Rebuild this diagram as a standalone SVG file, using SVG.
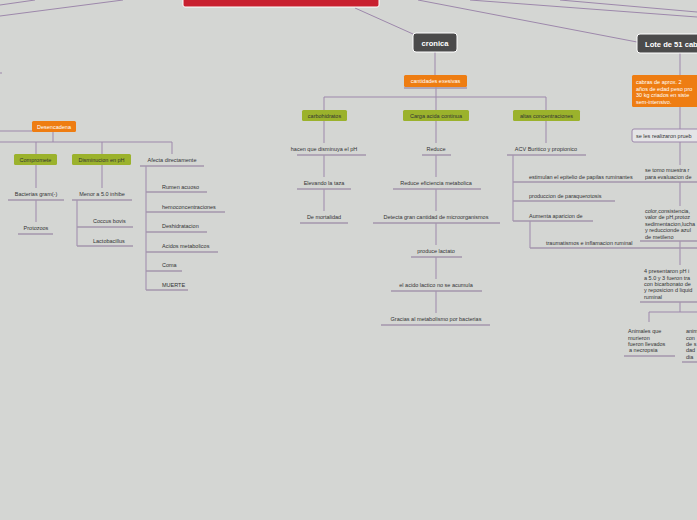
<svg xmlns="http://www.w3.org/2000/svg" width="697" height="520" viewBox="0 0 697 520">
<style>
text{font-family:"Liberation Sans",Arial,sans-serif;font-size:5.5px;fill:#333}
.c{text-anchor:middle}
.l{stroke:#9d88ab;stroke-width:1;fill:none}
.u{stroke:#a497ad;stroke-width:1.3;fill:none}
.dk{fill:#4b4b4b;stroke:#fff;stroke-width:1}
.or{fill:#ee7d12}
.gr{fill:#9bb22c}
.wt{fill:#fff}
.hb{font-size:7.6px;font-weight:bold;fill:#fff}
</style>
<rect width="697" height="520" fill="#d4d6d3"/>
<g id="connectors">
<path class="l" d="M0 16L123 0M0 5L35 0M355 8L413 34M418 0L637 42M470 0L697 17M560 0L697 12M0 73L2 73"/>
<path class="l" d="M435 52V75M436 87V97M324 97H546M324 97V110M436 97V110M546 97V110"/>
<path class="l" d="M324 121V143M324 155V177M324 189V211"/>
<path class="l" d="M436 121V143M436 155V177M436 189V211M436 223V245M436 257V279M436 291V313"/>
<path class="l" d="M546 121V143M513 155V221M530 221V248"/>
<path class="l" d="M680 53V75M680 107V129M680 142V165M680 182V206M680 241V265M680 302V312M649 312H697M649 312V322"/>
<path class="l" d="M0 131H32M53 132V142M0 142H172M36 142V154M102 142V154M172 142V154"/>
<path class="l" d="M36 165V188M36 200V222M102 165V188M77 200V246M146 166V290"/>
<g class="u">
<path d="M404 88H467M297 155H366M297 189H351M300 223H348M422 155H451M393 189H481M373 223H500M411 257H462M391 291H482M381 325H490"/>
<path d="M507 155H586M513 182H697M513 201H615M513 221H593M530 248H697M640 182H697M640 241H697M640 302H697M624 356H675M682 362H697"/>
<path d="M8 200H64M18 234H53M72 200H132M77 227H133M77 246H133M140 166H204M146 192H207M146 212H225M146 232H207M146 252H218M146 271H182M146 290H188"/>
</g>
</g>
<g id="root"><rect x="183" y="-6" width="196" height="13" rx="2" fill="#c8202f" stroke="#fff"/></g>
<g id="cronica"><rect class="dk" x="413" y="33" width="44" height="19" rx="3"/><text class="c hb" x="435" y="45.5">cronica</text></g>
<g id="lote"><rect class="dk" x="637" y="34" width="70" height="19" rx="3"/><text class="hb" x="645" y="46.5">Lote de 51 cabras</text></g>
<g id="cantidades"><rect class="or" x="404" y="75" width="63" height="12" rx="1.5"/><text class="c wt" x="435.5" y="83">cantidades exesivas</text></g>
<g id="carbohidratos"><rect class="gr" x="302" y="110" width="45" height="11" rx="1.5"/><text class="c" x="324.5" y="117.5">carbohidratos</text></g>
<g id="carga"><rect class="gr" x="403" y="110" width="66" height="11" rx="1.5"/><text class="c" x="436" y="117.5">Carga acida continua</text></g>
<g id="altas"><rect class="gr" x="513" y="110" width="67" height="11" rx="1.5"/><text class="c" x="546.5" y="117.5">altas concentraciones</text></g>
<g id="col1"><text class="c" x="324" y="151">hacen que disminuya el pH</text><text class="c" x="324" y="185">Elevando la taza</text><text class="c" x="324" y="219">De mortalidad</text></g>
<g id="col2"><text class="c" x="436" y="151">Reduce</text><text class="c" x="436" y="185">Reduce eficiencia metabolica</text><text class="c" x="436" y="219">Detecta gran cantidad de microorganismos</text><text class="c" x="436" y="253">produce lactato</text><text class="c" x="436" y="287">el acido lactico no se acumula</text><text class="c" x="436" y="321">Gracias al metabolismo por bacterias</text></g>
<g id="col3"><text class="c" x="546" y="151">ACV Buritico y propionico</text><text x="529" y="179">estimulan el epitelio de papilas ruminantes</text><text x="529" y="198">produccion de paraquerotosis</text><text x="529" y="218">Aumenta aparicion de</text><text x="546" y="245">traumatismos e inflamacion ruminal</text></g>
<g id="cabras"><rect class="or" x="632" y="75" width="70" height="32" rx="1.5"/><text class="wt" x="636" y="84">cabras de aprox. 2</text><text class="wt" x="636" y="90.5">años de edad peso pro</text><text class="wt" x="636" y="97">30 kg criados en siste</text><text class="wt" x="636" y="103.5">sem-intensivo.</text></g>
<g id="pruebas"><rect x="632" y="129" width="70" height="13" rx="2" fill="#e4e4e6" stroke="#9d88ab"/><text x="636" y="137.5">se les realizaron prueb</text></g>
<g id="muestra"><text x="645" y="172">se tomo muestra r</text><text x="645" y="179">para evaluacion de</text></g>
<g id="color"><text x="645" y="213">color,consistencia,</text><text x="645" y="219">valor de pH,protoz</text><text x="645" y="225.5">sedimentacion,lucha</text><text x="645" y="232">y reduccionde azul</text><text x="645" y="238.5">de metileno</text></g>
<g id="ph"><text x="644" y="273">4 presentaron pH i</text><text x="644" y="279.5">a 5.0 y 3 fueron tra</text><text x="644" y="286">con bicarbonato de</text><text x="644" y="292">y reposicion d liquid</text><text x="644" y="298.5">ruminal</text></g>
<g id="necropsia"><text x="628" y="333">Animales que</text><text x="628" y="339.5">murieron</text><text x="628" y="346">fueron llevados</text><text x="629" y="352">a necropsia</text></g>
<g id="anim"><text x="686" y="333">anim</text><text x="686" y="339.5">con</text><text x="686" y="346">de s</text><text x="686" y="352">dad</text><text x="686" y="358.5">dia</text></g>
<g id="desencadena"><rect class="or" x="32" y="121" width="44" height="11" rx="1.5"/><text class="c wt" x="54" y="128.5">Desencadena</text></g>
<g id="compromete"><rect class="gr" x="14" y="154" width="43" height="11" rx="1.5"/><text class="c" x="35.5" y="161.5">Compromete</text></g>
<g id="disminucion"><rect class="gr" x="72" y="154" width="59" height="11" rx="1.5"/><text class="c" x="101.5" y="161.5">Disminucion en pH</text></g>
<g id="afecta"><text class="c" x="172" y="162">Afecta directamente</text></g>
<g id="leftcols"><text class="c" x="36" y="196">Bacterias gram(-)</text><text class="c" x="36" y="230">Protozoos</text><text class="c" x="102" y="196">Menor a 5.0 inhibe</text><text x="93" y="223">Coccus bovis</text><text x="93" y="243">Lactobacillus</text>
<text x="162" y="189">Rumen acuoso</text><text x="162" y="209">hemoconcentraciones</text><text x="162" y="228">Deshidratacion</text><text x="162" y="248">Acidos metabolicos</text><text x="162" y="267">Coma</text><text x="162" y="287">MUERTE</text></g>
</svg>
